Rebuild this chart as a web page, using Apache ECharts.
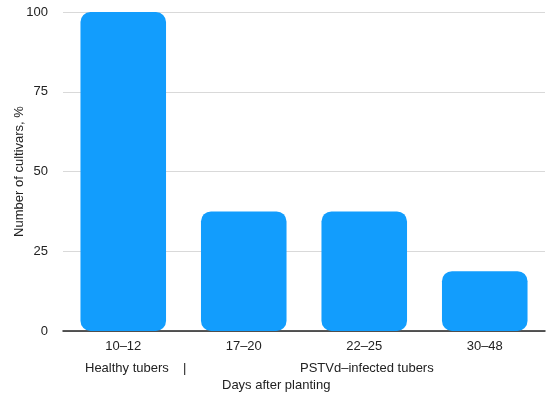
<!DOCTYPE html>
<html>
<head>
<meta charset="utf-8">
<script src="https://cdn.jsdelivr.net/npm/echarts@6/dist/echarts.min.js"></script>
<style>html,body{margin:0;padding:0;background:#fff}#c{width:550px;height:399px}</style>
</head>
<body>
<div id="c"></div>
<script>
const categories = ['10\u201312', '17\u201320', '22\u201325', '30\u201348'];
const values = [100, 37.5, 37.5, 18.75];
const yTicks = [0, 25, 50, 75, 100];
const groupLabels = ['Healthy tubers', '|', 'PSTVd\u2013infected tubers'];
const xTitle = 'Days after planting';
const yTitle = 'Number of cultivars, %';

const font = '"Liberation Sans", Arial, Helvetica, sans-serif';
const chart = echarts.init(document.getElementById('c'), null, {renderer: 'canvas'});
chart.setOption({
  animation: false,
  textStyle: {fontFamily: font},
  grid: {left: 63, right: 5, top: 12, bottom: 68, containLabel: false, outerBoundsMode: 'none'},
  xAxis: {
    type: 'category',
    data: categories,
    axisLine: {lineStyle: {color: '#222', width: 1.5}},
    axisTick: {show: false},
    axisLabel: {color: '#222', fontSize: 13, margin: 9, fontFamily: font}
  },
  yAxis: {
    type: 'value',
    min: yTicks[0], max: yTicks[yTicks.length - 1], interval: 25,
    name: yTitle,
    nameLocation: 'middle',
    nameGap: 37,
    nameMoveOverlap: false,
    nameTextStyle: {color: '#222', fontSize: 13, fontFamily: font},
    axisLine: {show: false},
    axisTick: {show: false},
    axisLabel: {color: '#222', fontSize: 13, margin: 15, fontFamily: font},
    splitLine: {lineStyle: {color: '#d9d9d9', width: 1}}
  },
  series: [{
    type: 'bar',
    data: values,
    barCategoryGap: '29%',
    itemStyle: {color: '#129dfd', borderRadius: 10}
  }],
  graphic: [
    {type: 'text', left: 85, top: 362, style: {text: groupLabels[0], fill: '#222', font: '13px ' + font}},
    {type: 'text', left: 183, top: 362, style: {text: groupLabels[1], fill: '#222', font: '13px ' + font}},
    {type: 'text', left: 300, top: 362, style: {text: groupLabels[2], fill: '#222', font: '13px ' + font}},
    {type: 'text', left: 222, top: 379, style: {text: xTitle, fill: '#222', font: '13px ' + font}}
  ]
});
</script>
</body>
</html>
